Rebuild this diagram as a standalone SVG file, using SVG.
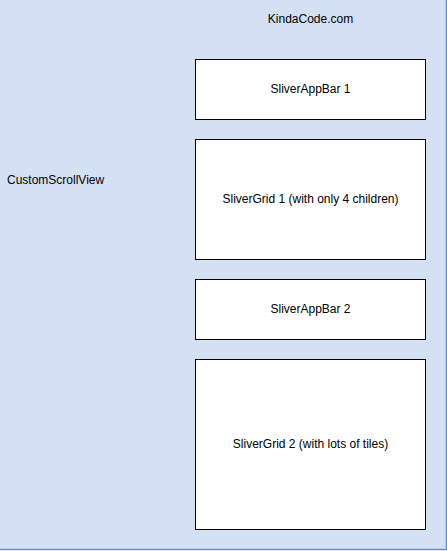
<svg xmlns="http://www.w3.org/2000/svg" width="447" height="551" viewBox="0 0 447 551">
<style>
.box{fill:#ffffff;stroke:#000000;stroke-width:1}
.t{font-family:"Liberation Sans",Arial,sans-serif;font-size:12px;fill:#000000}
.c{text-anchor:middle}
</style>
<g id="container">
<rect x="-1" y="-1" width="447.5" height="550.5" fill="#d4e1f5" stroke="#6c8ebf" stroke-width="1.5"/>
<text class="t c" x="310.5" y="23">KindaCode.com</text>
<text class="t" x="7" y="184">CustomScrollView</text>
</g>
<g id="sliverAppBar1">
<rect class="box" x="195.5" y="59.5" width="230" height="60"/>
<text class="t c" x="310.5" y="93">SliverAppBar 1</text>
</g>
<g id="sliverGrid1">
<rect class="box" x="195.5" y="139.5" width="230" height="120"/>
<text class="t c" x="310.5" y="203">SliverGrid 1 (with only 4 children)</text>
</g>
<g id="sliverAppBar2">
<rect class="box" x="195.5" y="279.5" width="230" height="60"/>
<text class="t c" x="310.5" y="313">SliverAppBar 2</text>
</g>
<g id="sliverGrid2">
<rect class="box" x="195.5" y="359.5" width="230" height="170"/>
<text class="t c" x="310.5" y="448">SliverGrid 2 (with lots of tiles)</text>
</g>
<g id="connectors"></g>
</svg>
